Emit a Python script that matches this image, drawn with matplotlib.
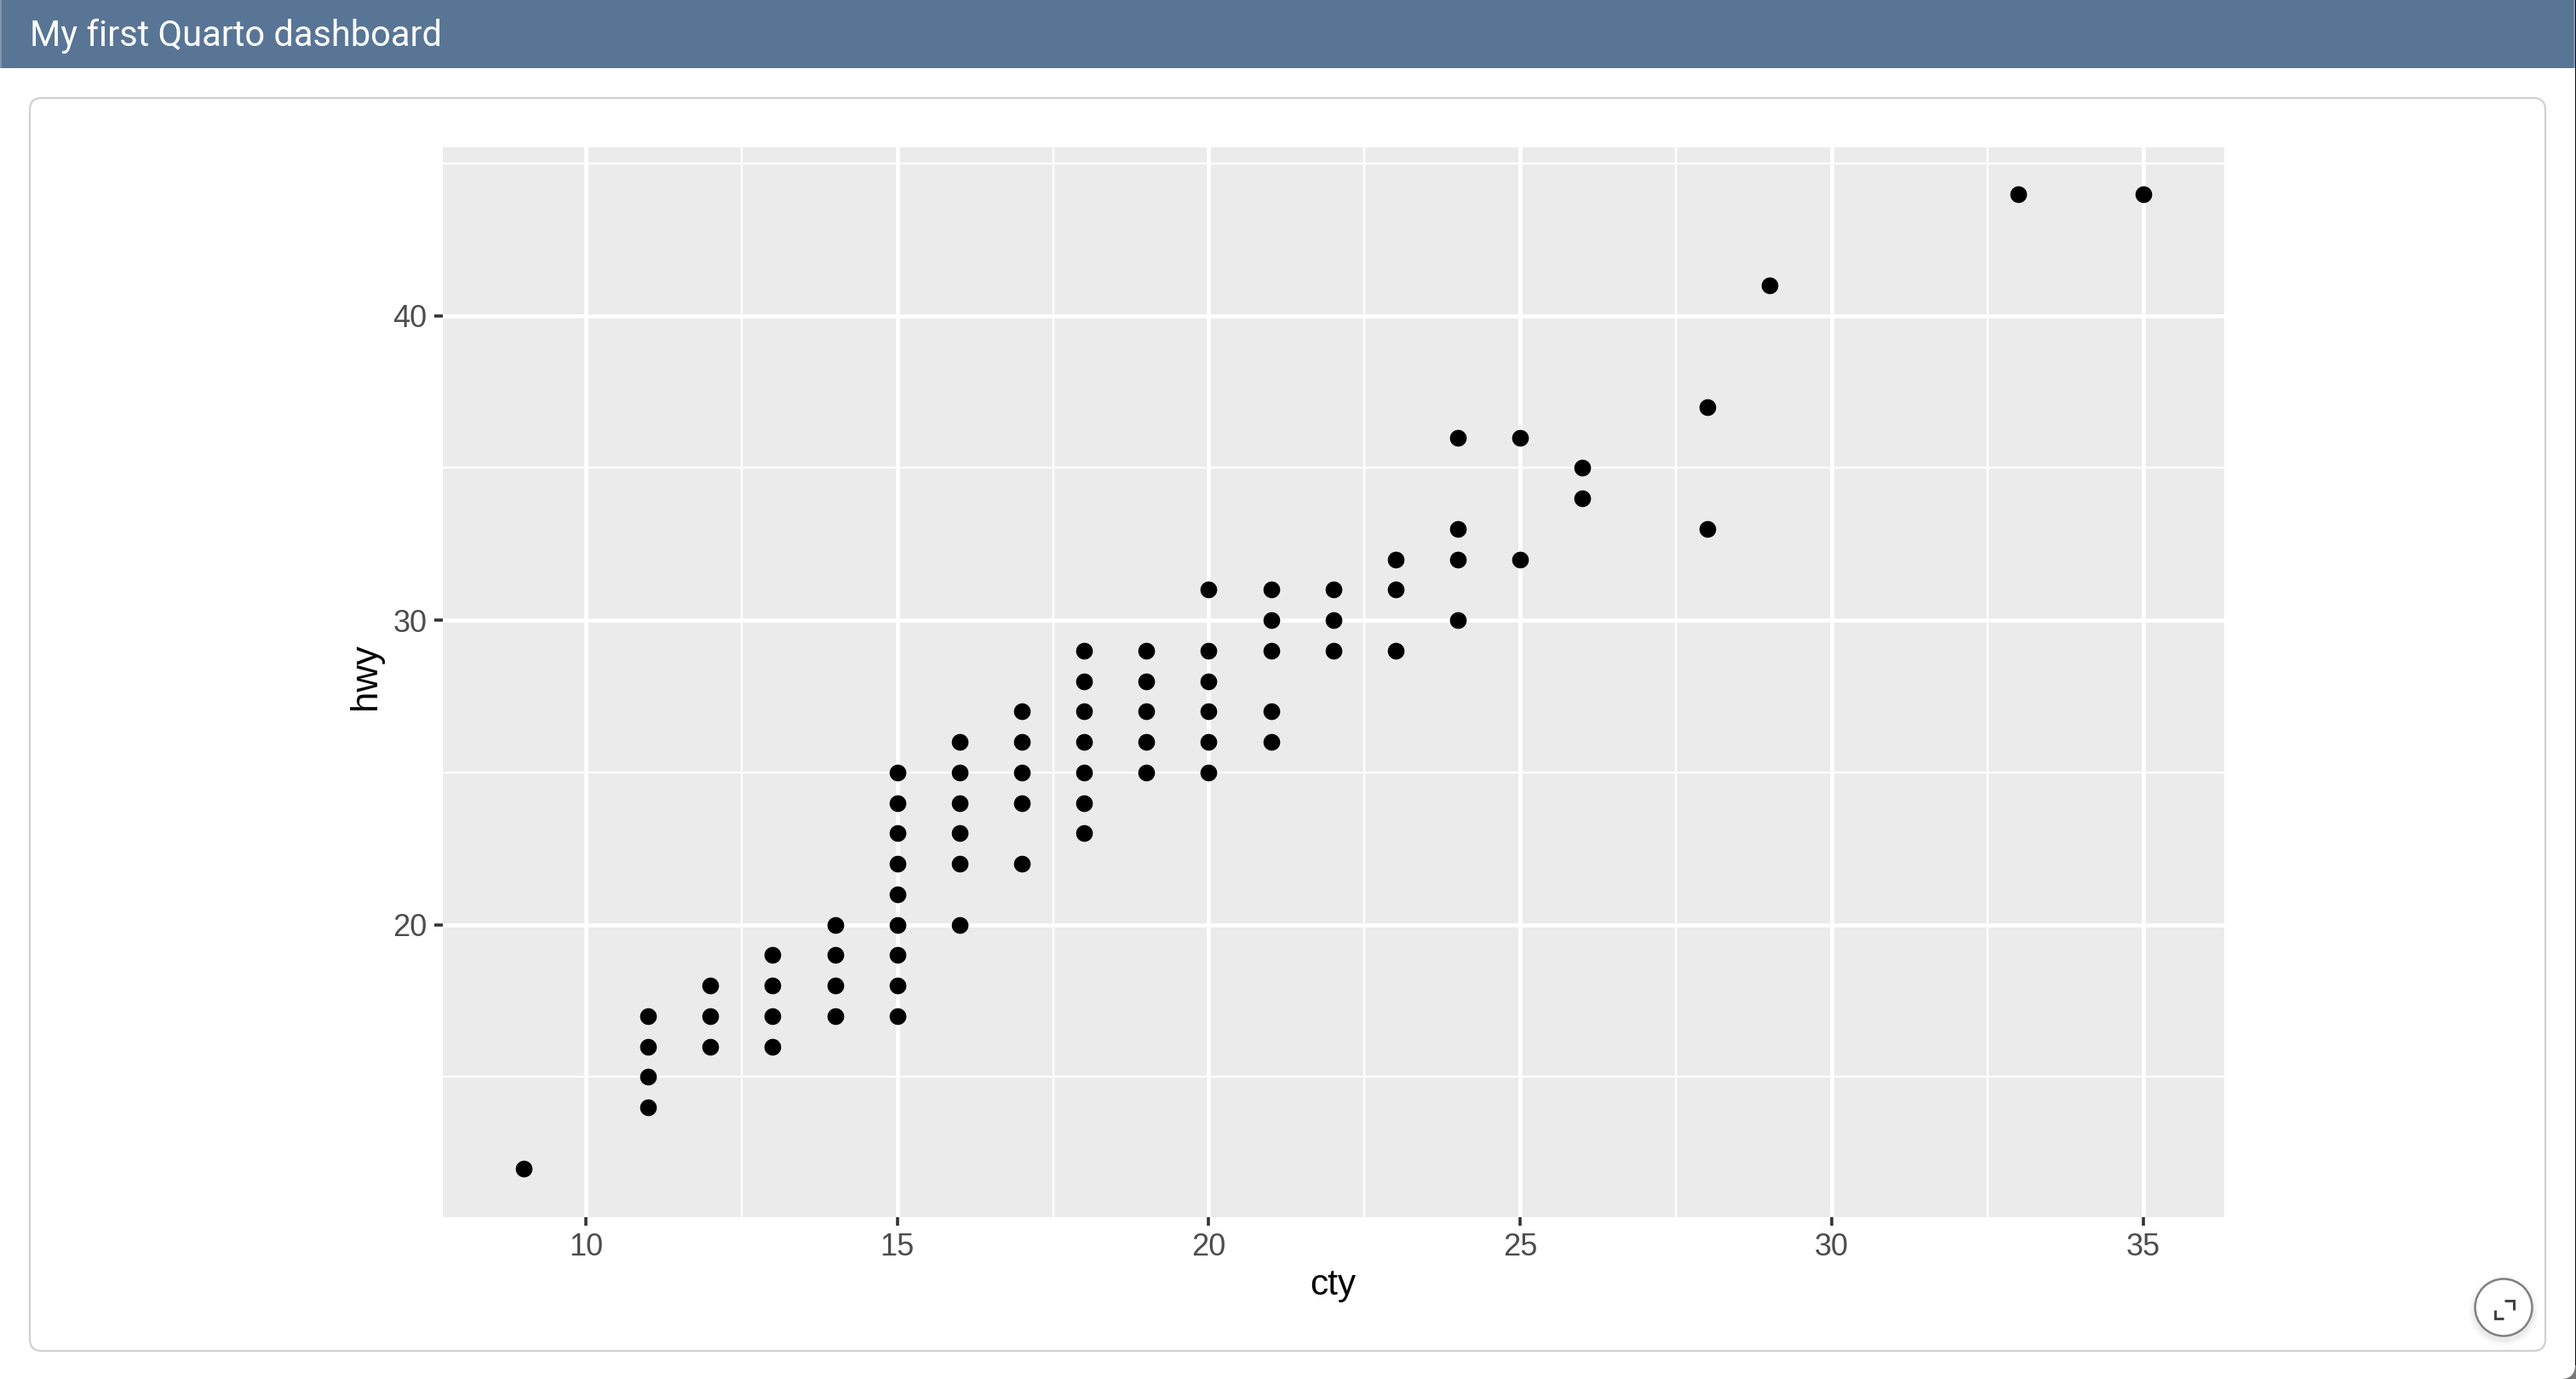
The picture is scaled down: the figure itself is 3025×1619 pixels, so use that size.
import matplotlib
matplotlib.use("Agg")
import matplotlib.pyplot as plt
from matplotlib.patches import FancyBboxPatch, Rectangle, Circle

W, H = 3025, 1619
TITLE = "My first Quarto dashboard"
XLABEL = "cty"
YLABEL = "hwy"
X_MAJOR = [10, 15, 20, 25, 30, 35]
X_MINOR = [12.5, 17.5, 22.5, 27.5, 32.5]
Y_MAJOR = [20, 30, 40]
Y_MINOR = [15, 25, 35, 45]

cty_9 = [12]
cty_11 = [14, 15, 16, 17]
cty_12 = [16, 17, 18]
cty_13 = [16, 17, 18, 19]
cty_14 = [17, 18, 19, 20]
cty_15 = [17, 18, 19, 20, 21, 22, 23, 24, 25]
cty_16 = [20, 22, 23, 24, 25, 26]
cty_17 = [22, 24, 25, 26, 27]
cty_18 = [23, 24, 25, 26, 27, 28, 29]
cty_19 = [25, 26, 27, 28, 29]
cty_20 = [25, 26, 27, 28, 29, 31]
cty_21 = [26, 27, 29, 30, 31]
cty_22 = [29, 30, 31]
cty_23 = [29, 31, 32]
cty_24 = [30, 32, 33, 36]
cty_25 = [32, 36]
cty_26 = [34, 35]
cty_28 = [33, 37]
cty_29 = [41]
cty_33 = [44]
cty_35 = [44]
columns = {9: cty_9, 11: cty_11, 12: cty_12, 13: cty_13, 14: cty_14, 15: cty_15,
           16: cty_16, 17: cty_17, 18: cty_18, 19: cty_19, 20: cty_20, 21: cty_21,
           22: cty_22, 23: cty_23, 24: cty_24, 25: cty_25, 26: cty_26, 28: cty_28,
           29: cty_29, 33: cty_33, 35: cty_35}

plt.rcParams["font.family"] = ["Liberation Sans", "DejaVu Sans"]
fig = plt.figure(figsize=(W / 100, H / 100), dpi=100, facecolor="white")

# page furniture in pixel coordinates
bg = fig.add_axes([0, 0, 1, 1], zorder=0)
bg.set_xlim(0, W)
bg.set_ylim(H, 0)
bg.axis("off")
# rounded window corners of the screenshot
bg.add_patch(Rectangle((0, H - 16), 16, 16, fc="#777777", ec="none"))
bg.add_patch(Rectangle((W - 16, H - 16), 16, 16, fc="#777777", ec="none"))
bg.add_patch(FancyBboxPatch((-30, -30), W + 29, H + 30, boxstyle="round,pad=0,rounding_size=17",
                            fc="white", ec="none"))
bg.add_patch(Rectangle((W - 1, 0), 1, H - 16, fc="#111111", ec="none"))
bg.add_patch(Rectangle((0, 0), W - 1, 80, fc="#587596", ec="none"))
bg.add_patch(Rectangle((0, 0), 2, 80, fc="#7f95ad", ec="none"))
bg.add_patch(Rectangle((W - 3, 0), 2, 80, fc="#7f95ad", ec="none"))
bg.text(35, 42, TITLE, color="white", fontsize=30, family="Roboto", va="center", ha="left")
bg.add_patch(FancyBboxPatch((35, 115), 2954, 1471, boxstyle="round,pad=0,rounding_size=14",
                            fc="white", ec="#d0d0d0", lw=1.6))

# plot panel
ax = fig.add_axes([519.7 / W, 1 - 1428.7 / H, (2611 - 519) / W, (1428 - 172) / H], zorder=1)
ax.set_facecolor("#EBEBEB")
for s in ax.spines.values():
    s.set_visible(False)
ax.set_xlim(7.7, 36.3)
ax.set_ylim(10.4, 45.54)
ax.set_xticks(X_MAJOR)
ax.set_yticks(Y_MAJOR)
ax.set_xticks(X_MINOR, minor=True)
ax.set_yticks(Y_MINOR, minor=True)
ax.set_axisbelow(True)
ax.grid(which="major", color="white", lw=3.4)
ax.grid(which="minor", color="white", lw=1.7)
ax.tick_params(which="minor", length=0)
ax.tick_params(which="major", length=7.5, width=2.6, color="#333333", labelcolor="#4D4D4D",
               labelsize=26, pad=5.5)
for cty, hwys in columns.items():
    ax.scatter([cty] * len(hwys), hwys, s=200, color="black", linewidths=0, zorder=3)
ax.set_xlabel(XLABEL, fontsize=30.5, color="black", labelpad=5)
ax.set_ylabel(YLABEL, fontsize=31.5, color="black", labelpad=8, y=0.505)

# expand button
over = fig.add_axes([0, 0, 1, 1], zorder=2)
over.set_xlim(0, W)
over.set_ylim(H, 0)
over.axis("off")
over.patch.set_alpha(0)
for r, a in [(42, 0.012), (40, 0.015), (38, 0.02), (36, 0.03)]:
    over.add_patch(Circle((2940, 1539), r, fc="black", ec="none", alpha=a))
over.add_patch(Circle((2940, 1535), 33.5, fc="white", ec="#808080", lw=1.8))
over.plot([2941, 2952, 2952], [1527, 1527, 1538], color="#444444", lw=2.2, solid_joinstyle="miter", solid_capstyle="butt")
over.plot([2929.5, 2929.5, 2940], [1538, 1548, 1548], color="#444444", lw=2.2, solid_joinstyle="miter", solid_capstyle="butt")

fig.savefig("out.png", dpi=100)
